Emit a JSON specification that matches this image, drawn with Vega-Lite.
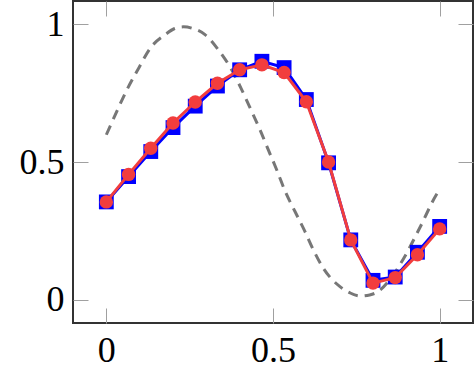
{
  "$schema": "https://vega.github.io/schema/vega-lite/v6.json",
  "width": 400,
  "height": 322,
  "autosize": {"type": "none"},
  "padding": {"left": 73, "top": 1, "right": 1, "bottom": 50},
  "config": {
    "view": {"stroke": "#333333", "strokeWidth": 2},
    "axis": {
      "grid": false,
      "domain": false,
      "ticks": true,
      "tickColor": "#a0a0a0",
      "tickSize": -15,
      "tickWidth": 1,
      "labelFont": "Liberation Serif",
      "labelFontSize": 36,
      "labelColor": "#000000",
      "title": null
    }
  },
  "datasets": {
    "markers": [
      {"x": 0, "blue": 0.355, "red": 0.355},
      {"x": 0.0667, "blue": 0.447, "red": 0.455},
      {"x": 0.1333, "blue": 0.538, "red": 0.55},
      {"x": 0.2, "blue": 0.625, "red": 0.642},
      {"x": 0.2667, "blue": 0.703, "red": 0.718},
      {"x": 0.3333, "blue": 0.776, "red": 0.786},
      {"x": 0.4, "blue": 0.835, "red": 0.835},
      {"x": 0.4667, "blue": 0.866, "red": 0.853},
      {"x": 0.5333, "blue": 0.843, "red": 0.825},
      {"x": 0.6, "blue": 0.727, "red": 0.719},
      {"x": 0.6667, "blue": 0.497, "red": 0.5},
      {"x": 0.7333, "blue": 0.217, "red": 0.217},
      {"x": 0.8, "blue": 0.07, "red": 0.06},
      {"x": 0.8667, "blue": 0.082, "red": 0.08},
      {"x": 0.9333, "blue": 0.172, "red": 0.163},
      {"x": 1, "blue": 0.266, "red": 0.257}
    ],
    "curve": [
      {"x": 0, "y": 0.599},
      {"x": 0.027, "y": 0.672},
      {"x": 0.062, "y": 0.763},
      {"x": 0.097, "y": 0.841},
      {"x": 0.132, "y": 0.914},
      {"x": 0.177, "y": 0.963},
      {"x": 0.205, "y": 0.985},
      {"x": 0.231, "y": 0.991},
      {"x": 0.26, "y": 0.985},
      {"x": 0.296, "y": 0.963},
      {"x": 0.336, "y": 0.908},
      {"x": 0.376, "y": 0.835},
      {"x": 0.406, "y": 0.763},
      {"x": 0.436, "y": 0.684},
      {"x": 0.461, "y": 0.617},
      {"x": 0.486, "y": 0.544},
      {"x": 0.511, "y": 0.472},
      {"x": 0.536, "y": 0.395},
      {"x": 0.566, "y": 0.32},
      {"x": 0.596, "y": 0.247},
      {"x": 0.621, "y": 0.181},
      {"x": 0.651, "y": 0.114},
      {"x": 0.701, "y": 0.047},
      {"x": 0.73, "y": 0.025},
      {"x": 0.76, "y": 0.013},
      {"x": 0.79, "y": 0.017},
      {"x": 0.815, "y": 0.029},
      {"x": 0.855, "y": 0.08},
      {"x": 0.895, "y": 0.156},
      {"x": 0.94, "y": 0.26},
      {"x": 0.99, "y": 0.381},
      {"x": 1, "y": 0.4}
    ]
  },
  "resolve": {"axis": {"x": "independent", "y": "independent"}},
  "layer": [
    {
      "data": {"name": "curve"},
      "mark": {"type": "line", "color": "#777777", "strokeWidth": 3, "strokeDash": [10, 7], "interpolate": "monotone"},
      "encoding": {
        "x": {"field": "x", "type": "quantitative", "scale": {"domain": [-0.1, 1.1], "nice": false, "zero": false},
              "axis": {"orient": "bottom", "values": [0, 0.5, 1], "format": "~g", "labelPadding": 25}},
        "y": {"field": "y", "type": "quantitative", "scale": {"domain": [-0.085, 1.085], "nice": false, "zero": false},
              "axis": {"orient": "left", "values": [0, 0.5, 1], "format": "~g", "labelPadding": 24}}
      }
    },
    {
      "data": {"name": "markers"},
      "mark": {"type": "line", "color": "#0000ff", "strokeWidth": 3},
      "encoding": {
        "x": {"field": "x", "type": "quantitative", "axis": {"orient": "top", "values": [0, 0.5, 1], "labels": false}},
        "y": {"field": "blue", "type": "quantitative", "axis": {"orient": "right", "values": [0, 0.5, 1], "labels": false}}
      }
    },
    {
      "data": {"name": "markers"},
      "mark": {"type": "square", "color": "#0000ff", "size": 220, "opacity": 1, "filled": true},
      "encoding": {
        "x": {"field": "x", "type": "quantitative", "axis": null},
        "y": {"field": "blue", "type": "quantitative", "axis": null}
      }
    },
    {
      "data": {"name": "markers"},
      "mark": {"type": "line", "color": "#f23d3d", "strokeWidth": 3},
      "encoding": {
        "x": {"field": "x", "type": "quantitative", "axis": null},
        "y": {"field": "red", "type": "quantitative", "axis": null}
      }
    },
    {
      "data": {"name": "markers"},
      "mark": {"type": "circle", "color": "#f23d3d", "size": 180, "opacity": 1},
      "encoding": {
        "x": {"field": "x", "type": "quantitative", "axis": null},
        "y": {"field": "red", "type": "quantitative", "axis": null}
      }
    }
  ]
}
